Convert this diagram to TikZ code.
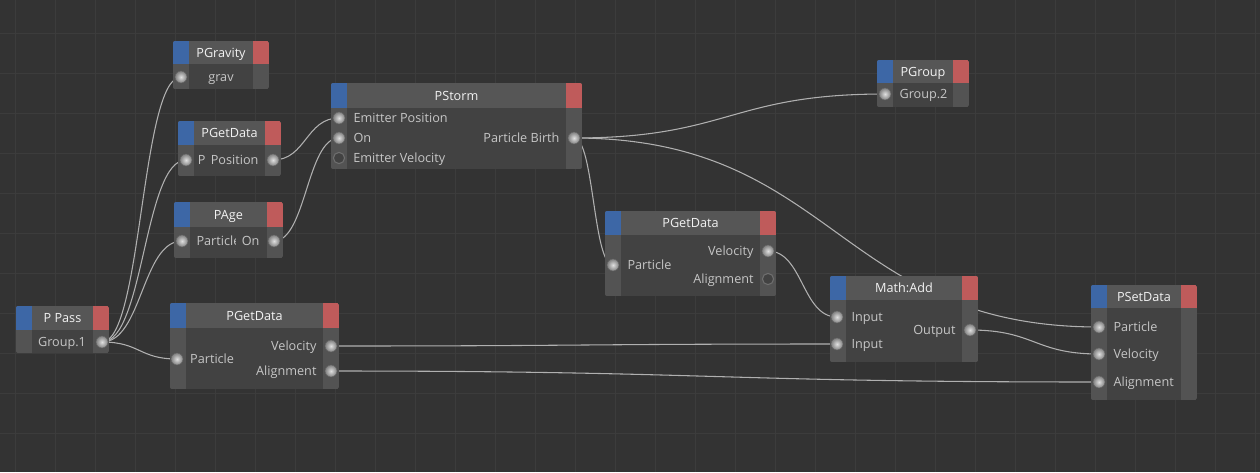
\documentclass[tikz,border=0pt]{standalone}
\usepackage{fontspec}
\setmainfont{Open Sans}
\usetikzlibrary{positioning,backgrounds}

\definecolor{canvas}{HTML}{333333}
\definecolor{gridcol}{HTML}{3C3C3C}
\definecolor{nodebody}{HTML}{424242}
\definecolor{nodehead}{HTML}{565656}
\definecolor{nodeside}{HTML}{535353}
\definecolor{inblue}{HTML}{3D67A6}
\definecolor{outred}{HTML}{BF5B5B}
\definecolor{wirecol}{HTML}{B0B0B0}
\definecolor{labelcol}{HTML}{C6C6C6}
\definecolor{titlecol}{HTML}{F2F2F2}

\tikzset{
  wire/.style={draw=wirecol, line width=0.8pt},
  port/.style={circle, minimum size=9pt, inner sep=0pt, draw=white!38!black, line width=0.4pt,
    inner color=white!88!black, outer color=white!50!black},
  freeport/.style={circle, minimum size=8.4pt, inner sep=0pt, draw=white!43!black, line width=0.8pt, fill=nodebody},
  title/.style={font=\fontsize{9.5}{11}\selectfont, text=titlecol, inner sep=0pt, text height=6.8pt, text depth=0pt},
  inlabel/.style={font=\fontsize{9.5}{11}\selectfont, text=labelcol, inner sep=0pt, text height=6.8pt, text depth=0pt},
  outlabel/.style={inlabel, fill=nodebody, inner xsep=4pt, inner ysep=1pt}
}

\begin{document}
\begin{tikzpicture}[x=0.75pt, y=-0.75pt]
  \useasboundingbox (0,0) rectangle (1260,472);

  % canvas and grid
  \begin{scope}[on background layer]
    \fill[canvas] (0,0) rectangle (1260,472);
    \foreach \x in {15,55,...,1255} {
      \draw[gridcol, line width=0.75pt] (\x,0) -- (\x,472);
    }
    \foreach \y in {33,73,...,473} {
      \draw[gridcol, line width=0.75pt] (0,\y) -- (1260,\y);
    }
  \end{scope}

  % node boxes: left/top/right/bottom/header bottom/name/title
  \foreach \l/\t/\r/\b/\h/\nm/\ttl in {
      173/41/269/89/64/grav/PGravity,
      178/121/281/176/145/getpos/PGetData,
      174/202/283/258/227/age/PAge,
      16/306/109/353/330/pass/P Pass,
      170/303/339/389/328/getvel/PGetData,
      331/83/582/169/108/storm/PStorm,
      877/60/969/107/83/group/PGroup,
      605/211/776/296/235/getmid/PGetData,
      830/276/978/362/300/add/Math:Add,
      1091/285/1197/400/308/set/PSetData} {
    \begin{scope}
      \clip[rounded corners=1.5pt] (\l,\t) rectangle (\r,\b);
      \fill[nodebody] (\l,\t) rectangle (\r,\b);
      \fill[nodehead] (\l,\t) rectangle (\r,\h);
      \fill[nodeside] (\l,\h) rectangle ({\l+16},\b);
      \fill[nodeside] ({\r-16},\h) rectangle (\r,\b);
      \fill[inblue] (\l,\t) rectangle ({\l+16},\h);
      \fill[outred] ({\r-16},\t) rectangle (\r,\h);
    \end{scope}
    \node[title] (\nm-title) at ({(\l+\r)/2},{(\t+\h)/2}) {\ttl};
  }

  % ports
  \node[port] (grav-in) at (181,77) {};
  \node[port] (getpos-in) at (186,160) {};
  \node[port] (getpos-out) at (273,160) {};
  \node[port] (age-in) at (182,241) {};
  \node[port] (age-out) at (274,241) {};
  \node[port] (pass-out) at (102,342) {};
  \node[port] (getvel-in) at (177,359) {};
  \node[port] (getvel-vel) at (331,346) {};
  \node[port] (getvel-align) at (331,371) {};
  \node[port] (storm-pos) at (339,118) {};
  \node[port] (storm-on) at (339,138) {};
  \node[freeport] (storm-evel) at (339,158) {};
  \node[port] (storm-birth) at (574,138) {};
  \node[port] (group-in) at (885,94) {};
  \node[port] (getmid-in) at (613,265) {};
  \node[port] (getmid-vel) at (768,251) {};
  \node[freeport] (getmid-align) at (768,279) {};
  \node[port] (add-in1) at (837,317) {};
  \node[port] (add-in2) at (837,344) {};
  \node[port] (add-out) at (970,330) {};
  \node[port] (set-part) at (1099,327) {};
  \node[port] (set-vel) at (1099,354) {};
  \node[port] (set-align) at (1099,382) {};

  % port labels
  \node[inlabel] (grav-lbl) at (221,77) {grav};
  \node[inlabel, anchor=west, right=4pt of getpos-in] (getpos-in-lbl) {P};
  \node[outlabel, anchor=east, left=2pt of getpos-out] (getpos-out-lbl) {Position};
  \node[inlabel, anchor=west, right=6pt of age-in] (age-in-lbl) {Particle};
  \node[outlabel, anchor=east, left=2pt of age-out] (age-out-lbl) {On};
  \node[inlabel] (pass-lbl) at (62,342) {Group.1};
  \node[inlabel, anchor=west, right=5pt of getvel-in] (getvel-in-lbl) {Particle};
  \node[outlabel, anchor=east, left=2pt of getvel-vel] (getvel-vel-lbl) {Velocity};
  \node[outlabel, anchor=east, left=2pt of getvel-align] (getvel-align-lbl) {Alignment};
  \node[inlabel, anchor=west, right=6pt of storm-pos] (storm-pos-lbl) {Emitter Position};
  \node[inlabel, anchor=west, right=6pt of storm-on] (storm-on-lbl) {On};
  \node[inlabel, anchor=west, right=6pt of storm-evel] (storm-evel-lbl) {Emitter Velocity};
  \node[outlabel, anchor=east, left=2pt of storm-birth] (storm-birth-lbl) {Particle Birth};
  \node[inlabel, anchor=west, right=6pt of group-in] (group-lbl) {Group.2};
  \node[inlabel, anchor=west, right=6pt of getmid-in] (getmid-in-lbl) {Particle};
  \node[outlabel, anchor=east, left=2pt of getmid-vel] (getmid-vel-lbl) {Velocity};
  \node[outlabel, anchor=east, left=2pt of getmid-align] (getmid-align-lbl) {Alignment};
  \node[inlabel, anchor=west, right=6pt of add-in1] (add-in1-lbl) {Input};
  \node[inlabel, anchor=west, right=6pt of add-in2] (add-in2-lbl) {Input};
  \node[outlabel, anchor=east, left=2pt of add-out] (add-out-lbl) {Output};
  \node[inlabel, anchor=west, right=6pt of set-part] (set-part-lbl) {Particle};
  \node[inlabel, anchor=west, right=6pt of set-vel] (set-vel-lbl) {Velocity};
  \node[inlabel, anchor=west, right=6pt of set-align] (set-align-lbl) {Alignment};

  % wires, behind the nodes
  \begin{scope}[on background layer]
    \draw[wire] (pass-out.center) .. controls +(40,0) and +(-40,0) .. (grav-in.center);
    \draw[wire] (pass-out.center) .. controls +(42,0) and +(-42,0) .. (getpos-in.center);
    \draw[wire] (pass-out.center) .. controls +(40,0) and +(-40,0) .. (age-in.center);
    \draw[wire] (pass-out.center) .. controls +(38,0) and +(-38,0) .. (getvel-in.center);
    \draw[wire] (getpos-out.center) .. controls +(33,0) and +(-33,0) .. (storm-pos.center);
    \draw[wire] (age-out.center) .. controls +(32,0) and +(-32,0) .. (storm-on.center);
    \draw[wire] (storm-birth.center) .. controls +(155,0) and +(-155,0) .. (group-in.center);
    \draw[wire] (storm-birth.center) .. controls +(20,0) and +(-20,0) .. (getmid-in.center);
    \draw[wire] (storm-birth.center) .. controls +(262,0) and +(-262,0) .. (set-part.center);
    \draw[wire] (getmid-vel.center) .. controls +(35,0) and +(-35,0) .. (add-in1.center);
    \draw[wire] (getvel-vel.center) .. controls +(253,0) and +(-253,0) .. (add-in2.center);
    \draw[wire] (getvel-align.center) .. controls +(384,0) and +(-384,0) .. (set-align.center);
    \draw[wire] (add-out.center) .. controls +(65,0) and +(-65,0) .. (set-vel.center);
  \end{scope}
\end{tikzpicture}
\end{document}
